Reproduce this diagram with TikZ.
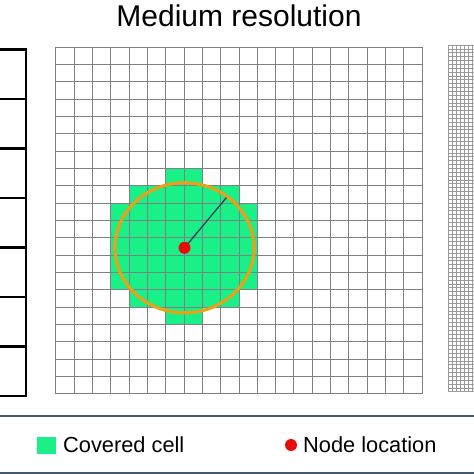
\documentclass[tikz,border=0pt]{standalone}
\usepackage{fontspec}
\setmainfont{Liberation Sans}
\definecolor{cellgreen}{RGB}{25,240,135}
\definecolor{ringorange}{RGB}{230,162,25}
\definecolor{dotred}{RGB}{235,10,10}
\definecolor{rulegray}{RGB}{70,90,105}
\definecolor{spokeblue}{RGB}{40,50,90}

\begin{document}
\begin{tikzpicture}[x=1pt,y=-1pt,
  coarse/.style={line width=2.5pt,black,line cap=rect},
  medium/.style={line width=1pt,black!50},
  fine/.style={line width=0.5pt,black!40},
  covered/.style={fill=cellgreen},
  ring/.style={draw=ringorange,line width=3.2pt},
  spoke/.style={draw=spokeblue,line width=1.2pt},
  dot/.style={circle,fill=dotred,minimum size=12pt,inner sep=0pt},
  legendtext/.style={font=\fontsize{21.8}{26}\selectfont,anchor=base west,inner sep=0pt}]
\useasboundingbox[fill=white] (0,0) rectangle (474,474);

% coarse grid, cut off at the left edge
\draw[coarse] (-3,49.3) -- (26,49.3) -- (26,396) -- (-3,396);
\foreach \k in {1,...,6}
  \draw[coarse] (-3,{49.3+49.53*\k}) -- (26,{49.3+49.53*\k});

% covered cells
\foreach \r/\a/\b in {7/6/7,8/4/9,9/3/10,10/3/10,11/3/10,12/3/10,13/3/10,14/4/9,15/6/7}
  \fill[covered] ({55.7+18.33*\a},{47.3+17.33*\r}) rectangle ({55.7+18.33*(\b+1)},{47.3+17.33*(\r+1)});

% medium grid
\foreach \i in {0,...,20} {
  \draw[medium] ({55.7+18.33*\i},47.3) -- ({55.7+18.33*\i},393.9);
  \draw[medium] (55.7,{47.3+17.33*\i}) -- (422.3,{47.3+17.33*\i});
}

% fine grid, cut off at the right edge
\foreach \i in {0,...,7}
  \draw[fine] ({448.3+3.95*\i},45) -- ({448.3+3.95*\i},391.7);
\foreach \j in {0,...,90}
  \draw[fine] (448.3,{45+3.852*\j}) -- (476,{45+3.852*\j});

% sensing range
\coordinate (ctr) at (184.5,247.8);
\coordinate (rim) at (226.5,197.5);
\draw[ring] (ctr) ellipse [x radius=69.5, y radius=65];
\draw[spoke] (ctr) -- (rim);
\node[dot] (node) at (ctr) {};

\node[font=\fontsize{30}{36}\selectfont,anchor=base] (title) at (239,26) {Medium resolution};

% legend
\draw[rulegray,line width=1.5pt] (0,416) -- (474,416);
\fill[rulegray] (0,471.5) rectangle (474,474);
\node[covered,minimum width=19pt,minimum height=17pt,inner sep=0pt] (keycell) at (46.5,445.5) {};
\node[legendtext] (keycelltext) at (63,452.7) {Covered cell};
\node[dot] (keydot) at (291,445) {};
\node[legendtext] (keydottext) at (303,452.7) {Node location};
\end{tikzpicture}
\end{document}
